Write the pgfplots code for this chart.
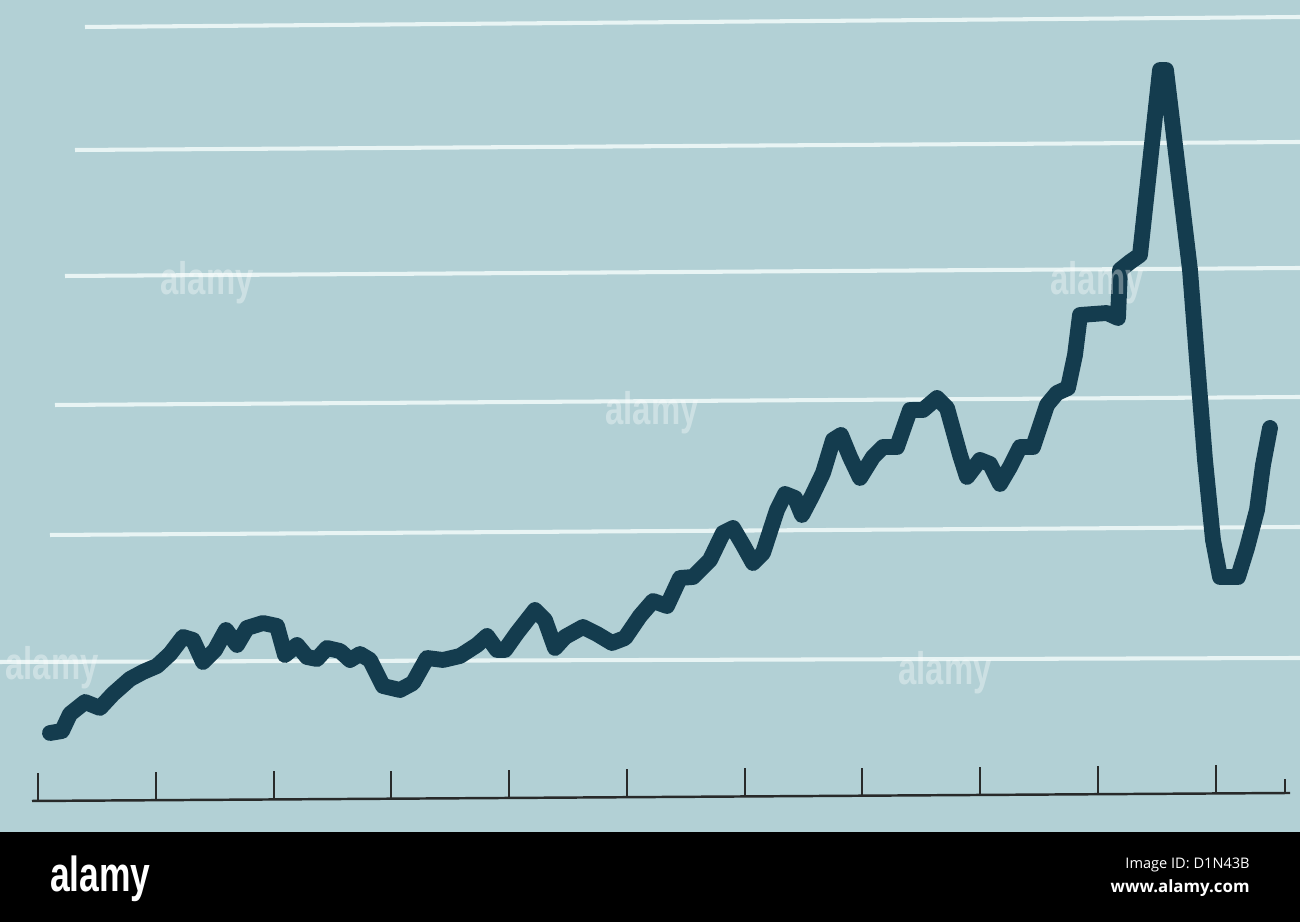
\documentclass[border=0pt]{standalone}
\usepackage{pgfplots}
\pgfplotsset{compat=1.18}
\usepackage{fontspec}
\setmainfont{Open Sans}
\newfontfamily\logofont{Liberation Sans}
\definecolor{paper}{RGB}{178,208,213}
\definecolor{ink}{RGB}{20,60,78}
\definecolor{gridw}{RGB}{232,244,244}
\definecolor{axisk}{RGB}{40,42,42}

% line: x = horizontal position, y = height above the axis
\pgfplotstableread{
x y
50 67
62 69
70 86
85 98
100 92
113 106
130 121
143 128
157 134
170 146
183 163
193 160
203 138
215 150
226 170
237 155
247 172
263 177
277 174
285 145
297 155
307 143
317 141
327 152
340 149
350 140
360 146
370 140
383 114
400 110
413 117
427 142
443 140
460 144
477 155
487 164
497 150
505 150
517 167
535 190
545 180
555 152
565 163
583 173
597 166
612 157
625 162
640 184
653 199
667 194
680 222
693 223
710 240
723 267
733 272
743 255
753 237
763 247
777 290
785 306
795 302
802 285
812 304
823 327
833 360
841 365
850 343
860 322
873 343
883 353
897 353
910 390
923 390
937 402
947 392
960 345
967 323
980 340
990 336
1000 316
1010 333
1020 353
1033 353
1047 395
1057 407
1068 412
1075 445
1080 485
1107 487
1118 482
1120 530
1130 538
1140 545
1160 730
1166 730
1190 530
1197 440
1205 340
1213 260
1220 223
1238 223
1247 252
1257 290
1263 335
1270 372
}\series

\tikzset{wmark/.style={text=white, opacity=0.35, inner sep=0pt,
  font=\logofont\bfseries\fontsize{26}{26}\selectfont, xscale=0.72}}

\begin{document}
\begin{tikzpicture}
\begin{axis}[
    scale only axis,
    width=260mm,
    height=166.4mm,
    xmin=0, xmax=1300,
    ymin=-32, ymax=800,
    axis lines=none,
    axis background/.style={fill=paper},
    clip=false,
    ]
% white guide lines (slightly tilted, as photographed)
\draw[gridw, line width=2.3pt] (axis cs:85,773) -- (axis cs:1300,783);
\draw[gridw, line width=2.3pt] (axis cs:75,650) -- (axis cs:1300,658);
\draw[gridw, line width=2.3pt] (axis cs:65,524) -- (axis cs:1300,532);
\draw[gridw, line width=2.3pt] (axis cs:55,395) -- (axis cs:1300,403);
\draw[gridw, line width=2.3pt] (axis cs:50,265) -- (axis cs:1300,273);
\draw[gridw, line width=2.3pt] (axis cs:0,138) -- (axis cs:1300,142);
% base line and ticks
\draw[axisk, line width=1.4pt] (axis cs:32,-1) -- (axis cs:1290,7);
\draw[axisk, line width=1.6pt] (axis cs:38,-1) -- (axis cs:38,27);
\draw[axisk, line width=1.6pt] (axis cs:156,0) -- (axis cs:156,28);
\draw[axisk, line width=1.6pt] (axis cs:274,0.5) -- (axis cs:274,28.5);
\draw[axisk, line width=1.6pt] (axis cs:391,1.3) -- (axis cs:391,29.3);
\draw[axisk, line width=1.6pt] (axis cs:509,2) -- (axis cs:509,30);
\draw[axisk, line width=1.6pt] (axis cs:627,2.8) -- (axis cs:627,30.8);
\draw[axisk, line width=1.6pt] (axis cs:745,3.5) -- (axis cs:745,31.5);
\draw[axisk, line width=1.6pt] (axis cs:862,4.3) -- (axis cs:862,32.3);
\draw[axisk, line width=1.6pt] (axis cs:980,5) -- (axis cs:980,33);
\draw[axisk, line width=1.6pt] (axis cs:1098,5.8) -- (axis cs:1098,33.8);
\draw[axisk, line width=1.6pt] (axis cs:1216,6.5) -- (axis cs:1216,34.5);
\draw[axisk, line width=1.6pt] (axis cs:1285,7) -- (axis cs:1285,21);

\addplot[ink, line width=9pt, line join=round, line cap=round] table[x=x, y=y] {\series};

% faint watermarks
\node[wmark] at (axis cs:207,517) {alamy};
\node[wmark] at (axis cs:652,387) {alamy};
\node[wmark] at (axis cs:1097,517) {alamy};
\node[wmark] at (axis cs:945,127) {alamy};
\node[wmark] at (axis cs:52,132) {alamy};

% bottom strip
\fill[black] (axis cs:0,-32) rectangle (axis cs:1300,-122);
\node[anchor=base west, text=white, font=\logofont\bfseries\fontsize{28}{28}\selectfont, xscale=0.72, inner sep=0pt]
  at (axis cs:50,-92) {alamy};
\node[anchor=base east, text=white, font=\fontsize{8.3}{9}\selectfont, inner sep=0pt]
  at (axis cs:1250,-69) {Image ID: D1N43B};
\node[anchor=base east, text=white, font=\bfseries\fontsize{9.6}{10}\selectfont, inner sep=0pt]
  at (axis cs:1250,-93) {www.alamy.com};
\coordinate (bl) at (axis cs:0,-122);
\coordinate (tr) at (axis cs:1300,800);
\end{axis}
\pgfresetboundingbox
\useasboundingbox (bl) rectangle (tr);
\end{tikzpicture}
\end{document}
